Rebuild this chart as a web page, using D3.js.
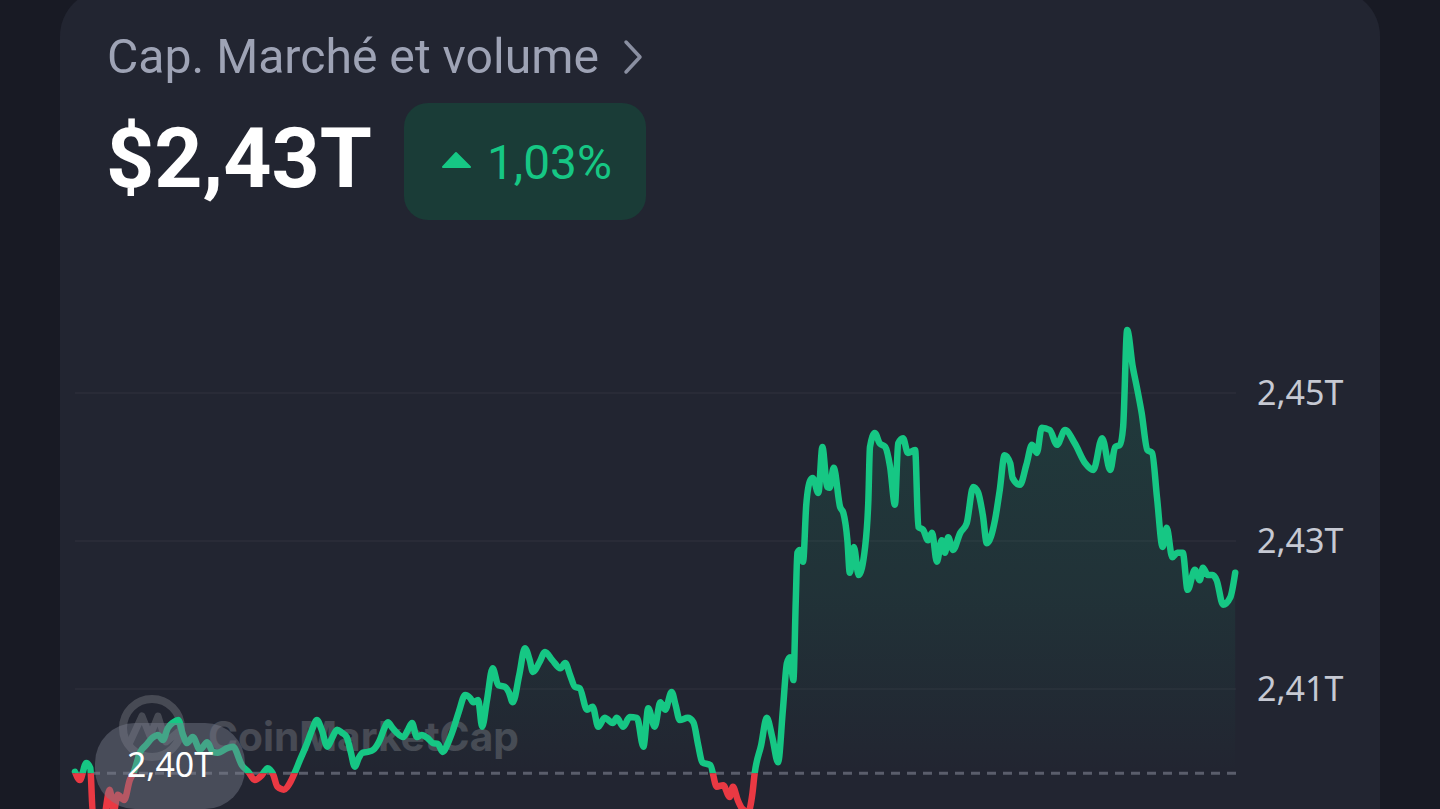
<!DOCTYPE html>
<html><head><meta charset="utf-8">
<script src="https://cdn.jsdelivr.net/npm/d3@7/dist/d3.min.js"></script>
<style>
html,body{margin:0;padding:0;background:#181a24;overflow:hidden;}
svg{display:block;}
</style></head>
<body>
<svg id="c" width="1440" height="809"></svg>
<script>
// ---- data (minutes since start of 24h window, market cap in billions USD) ----
const minutes = [0,6,14,19,22,35,43,48,53,61,68,73,81,88,96,103,109,115,122,128,134,139,146,155,164,171,177,189,196,207,215,223,232,239,246,251,259,267,273,279,288,294,300,306,313,319,325,331,337,342,347,352,357,363,370,378,383,388,394,399,407,413,418,424,430,437,444,450,456,463,469,476,484,490,494,500,505,511,518,525,533,538,543,551,558,564,568,576,583,592,602,608,614,620,626,635,642,649,657,667,672,680,688,697,705,711,719,726,732,740,745,750,760,767,773,778,788,796,804,812,816,822,827,835,840,843,851,858,865,872,878,883,887,891,894,896,899,903,907,912,915,922,927,933,936,941,949,953,958,961,966,972,980,984,986,992,998,1005,1011,1017,1021,1027,1033,1042,1046,1052,1058,1063,1069,1075,1079,1083,1089,1098,1106,1114,1120,1126,1131,1141,1147,1153,1160,1163,1172,1180,1187,1193,1199,1209,1218,1228,1240,1253,1263,1274,1284,1290,1296,1300,1305,1312,1317,1323,1330,1336,1342,1349,1354,1361,1367,1374,1380,1389,1395,1399,1405,1411,1416,1424,1433,1439];
const marketCap = [2398.8,2397.7,2400.0,2399.3,2393.4,2392.3,2396.4,2393.4,2395.7,2395.0,2397.7,2398.8,2401.5,2402.4,2403.4,2403.8,2403.1,2404.7,2405.5,2405.8,2403.8,2402.7,2403.5,2401.8,2402.8,2401.5,2401.4,2402.0,2402.2,2399.7,2398.8,2397.7,2398.4,2399.3,2398.4,2396.8,2396.4,2397.4,2398.8,2400.4,2402.7,2404.5,2405.8,2404.5,2402.2,2403.4,2404.5,2404.1,2403.5,2401.5,2399.5,2400.7,2401.4,2401.5,2401.8,2403.1,2404.5,2405.5,2404.7,2404.1,2403.5,2404.5,2405.4,2403.5,2403.8,2403.4,2402.7,2402.6,2401.5,2402.8,2404.5,2406.9,2409.2,2408.8,2408.2,2408.5,2404.9,2408.5,2412.8,2410.5,2410.3,2409.6,2408.2,2411.9,2415.5,2413.9,2412.3,2413.6,2415.0,2413.9,2412.8,2413.5,2411.9,2410.3,2410.1,2407.2,2407.6,2404.9,2406.1,2405.4,2406.1,2404.9,2406.2,2406.1,2402.2,2407.4,2404.9,2408.2,2407.2,2409.6,2407.8,2405.8,2406.1,2405.5,2402.4,2400.1,2399.7,2396.8,2397.0,2395.4,2396.8,2395.0,2393.9,2393.4,2395.7,2398.6,2402.4,2406.1,2403.4,2400.1,2407.2,2413.5,2414.3,2411.2,2422.0,2428.4,2428.8,2427.2,2434.9,2438.2,2438.5,2436.5,2442.7,2437.3,2437.2,2439.9,2434.6,2433.8,2430.1,2425.7,2429.2,2425.4,2429.2,2435.5,2442.7,2444.6,2443.2,2442.7,2440.0,2434.9,2443.2,2443.9,2441.9,2442.3,2431.9,2431.5,2430.1,2431.1,2427.2,2430.1,2428.4,2430.5,2428.8,2431.1,2432.4,2437.3,2436.6,2433.5,2429.7,2432.8,2436.9,2441.6,2440.5,2438.5,2437.6,2440.3,2443.0,2441.9,2445.3,2445.0,2443.0,2445.0,2443.2,2440.5,2439.6,2443.9,2439.6,2442.7,2443.0,2445.4,2458.5,2453.5,2450.8,2447.3,2442.3,2441.9,2435.9,2429.2,2431.8,2427.8,2428.4,2428.4,2423.4,2426.1,2424.7,2426.4,2425.4,2425.4,2424.7,2421.4,2422.4,2425.7];
const openValue = 2398.6;
const openLabel = "2,40T";
const tickValues = [2410, 2430, 2450];
const tickLabels = ["2,41T", "2,43T", "2,45T"];
const titleText = "Cap. Marché et volume";
const priceText = "$2,43T";
const changeText = "1,03%";

const data = minutes.map((m, i) => ({m, v: marketCap[i]}));

const svg = d3.select("#c");
const W = 1440, H = 809;
const GREEN = "#16c784", RED = "#ea3943";

function fit(sel, w) {
  const cur = sel.node().getComputedTextLength();
  const fs = parseFloat(sel.attr("font-size"));
  sel.attr("font-size", fs * w / cur);
}

// card
svg.append("rect").attr("x", 0).attr("y", 0).attr("width", W).attr("height", H).attr("fill", "#181a24");
svg.append("rect").attr("x", 60).attr("y", -10).attr("width", 1320).attr("height", 900)
  .attr("rx", 46).attr("fill", "#222531");

// header
const title = svg.append("text").attr("x", 107).attr("y", 73)
  .attr("font-family", "Roboto, 'Noto Sans', sans-serif").attr("font-size", 46)
  .attr("fill", "#9ea3b5").text(titleText);
fit(title, 492);
svg.append("path").attr("d", "M626,42 L640,57 L626,72")
  .attr("fill", "none").attr("stroke", "#8a8fa1").attr("stroke-width", 3.5)
  .attr("stroke-linecap", "round").attr("stroke-linejoin", "round");

const price = svg.append("text").attr("x", 106).attr("y", 187)
  .attr("font-family", "Roboto, 'Noto Sans', sans-serif").attr("font-weight", 700)
  .attr("font-size", 80).attr("fill", "#ffffff").text(priceText);
fit(price, 266);

svg.append("rect").attr("x", 404).attr("y", 103).attr("width", 242).attr("height", 117)
  .attr("rx", 24).attr("fill", "#1a3c37");
svg.append("path").attr("d", "M443,167 L456,153 L470,167 Z").attr("fill", GREEN)
  .attr("stroke", GREEN).attr("stroke-width", 2).attr("stroke-linejoin", "round");
const chg = svg.append("text").attr("x", 487).attr("y", 179)
  .attr("font-family", "Roboto, 'Noto Sans', sans-serif").attr("font-size", 46)
  .attr("fill", GREEN).text(changeText);
fit(chg, 125);

// scales
const left = 75, right = 1236;
const x = d3.scaleLinear().domain([0, 1440]).range([left, right]);
const y = d3.scaleLinear().domain([2410, 2450]).range([689, 393]);
const yBase = y(openValue);

// grid
svg.append("g").selectAll("line").data(tickValues).join("line")
  .attr("x1", left).attr("x2", right)
  .attr("y1", d => y(d)).attr("y2", d => y(d))
  .attr("stroke", "#30333f").attr("stroke-width", 1.2);

// axis labels
const axis = d3.axisRight(y).tickValues(tickValues)
  .tickFormat((d, i) => tickLabels[i]).tickSize(0).tickPadding(0);
const ag = svg.append("g").attr("transform", `translate(1257,0)`).call(axis);
ag.select(".domain").remove();
ag.selectAll("text").attr("font-family", "'Noto Sans', sans-serif")
  .attr("font-size", 34).attr("fill", "#c6c9d3").attr("dy", "0.35em");

// watermark
const wm = svg.append("g").attr("opacity", 0.17);
wm.append("circle").attr("cx", 152).attr("cy", 728).attr("r", 29)
  .attr("fill", "none").attr("stroke", "#ffffff").attr("stroke-width", 8);
wm.append("path").attr("d", "M130,742 L142,716 L150,736 L158,716 L166,742 L178,732")
  .attr("fill", "none").attr("stroke", "#ffffff").attr("stroke-width", 7)
  .attr("stroke-linejoin", "round").attr("stroke-linecap", "round");
const wmt = wm.append("text").attr("x", 208).attr("y", 751)
  .attr("font-family", "Inter, 'Noto Sans', sans-serif").attr("font-weight", 700)
  .attr("font-size", 50).attr("fill", "#ffffff").text("CoinMarketCap");
fit(wmt, 311);

// clips
const defs = svg.append("defs");
defs.append("clipPath").attr("id", "above").append("rect")
  .attr("x", 0).attr("y", 0).attr("width", W).attr("height", yBase);
defs.append("clipPath").attr("id", "below").append("rect")
  .attr("x", 0).attr("y", yBase).attr("width", W).attr("height", H);
const grad = defs.append("linearGradient").attr("id", "fillg")
  .attr("gradientUnits", "userSpaceOnUse").attr("x1", 0).attr("x2", 0)
  .attr("y1", 330).attr("y2", yBase);
grad.append("stop").attr("offset", 0).attr("stop-color", GREEN).attr("stop-opacity", 0.14);
grad.append("stop").attr("offset", 0.6).attr("stop-color", GREEN).attr("stop-opacity", 0.08);
grad.append("stop").attr("offset", 1).attr("stop-color", GREEN).attr("stop-opacity", 0.0);

const area = d3.area().x(d => x(d.m)).y0(yBase).y1(d => y(d.v)).curve(d3.curveMonotoneX);
svg.append("path").datum(data).attr("d", area)
  .attr("fill", "url(#fillg)").attr("clip-path", "url(#above)");

// baseline dashed
svg.append("line").attr("x1", left).attr("x2", right)
  .attr("y1", yBase).attr("y2", yBase)
  .attr("stroke", "#5a5d6b").attr("stroke-width", 3).attr("stroke-dasharray", "9 7");

const line = d3.line().x(d => x(d.m)).y(d => y(d.v)).curve(d3.curveMonotoneX);
svg.append("path").datum(data).attr("d", line).attr("fill", "none")
  .attr("stroke", GREEN).attr("stroke-width", 6.5).attr("stroke-linejoin", "round")
  .attr("stroke-linecap", "round").attr("clip-path", "url(#above)");
svg.append("path").datum(data).attr("d", line).attr("fill", "none")
  .attr("stroke", RED).attr("stroke-width", 6.5).attr("stroke-linejoin", "round")
  .attr("stroke-linecap", "round").attr("clip-path", "url(#below)");

// open-value pill
svg.append("rect").attr("x", 95).attr("y", 723).attr("width", 150).attr("height", 86)
  .attr("rx", 40).attr("fill", "rgba(120,124,140,0.45)");
const pt = svg.append("text").attr("x", 127).attr("y", 777)
  .attr("font-family", "'Noto Sans', sans-serif").attr("font-size", 32)
  .attr("fill", "#ffffff").text(openLabel);
fit(pt, 86);
</script>
</body></html>
